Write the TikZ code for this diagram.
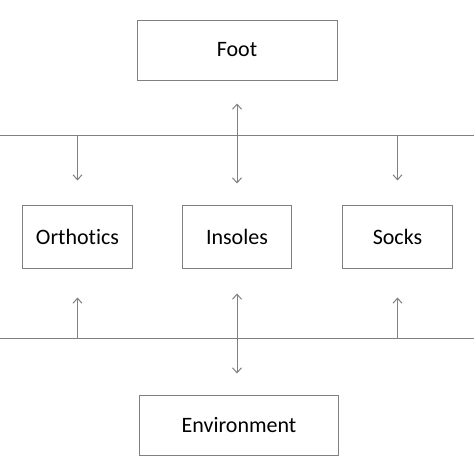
\documentclass[tikz,border=0pt]{standalone}
\usepackage{fontspec}
\setmainfont{Carlito}[Ligatures=NoCommon]
\usepackage{tikz}
\usetikzlibrary{arrows.meta,positioning}
\definecolor{lineGray}{RGB}{128,128,128}

\begin{document}
\begin{tikzpicture}[x=1pt,y=-1pt,node distance=124pt,>={Straight Barb[length=5pt,width=9pt]},line width=1pt]
\tikzset{box/.style={rectangle,draw=lineGray,line width=1pt,minimum width=110pt,minimum height=63pt,inner sep=0pt,font=\fontsize{22}{25}\selectfont}}
\useasboundingbox (0,0) rectangle (474,474);

\node (foot) [box,minimum width=200pt,minimum height=60pt] at (237,50) {Foot};
\node (insoles) [box,minimum width=109pt,below=124pt of foot] {Insoles};
\node (orthotics) [box,left=49pt of insoles] {Orthotics};
\node (socks) [box,right=50pt of insoles] {Socks};
\node (env) [box,minimum width=199pt,minimum height=60pt,below=126pt of insoles,xshift=2pt] {Environment};

% the two bus lines
\coordinate (topL) at (0,135);
\coordinate (topR) at (474,135);
\coordinate (botL) at (0,338);
\coordinate (botR) at (474,338);
\draw[lineGray] (topL) -- (topR);
\draw[lineGray] (botL) -- (botR);

\draw[lineGray,<->,shorten <=23pt,shorten >=21pt] (foot) -- (insoles);
\draw[lineGray,->,shorten >=24pt] (orthotics.north |- topL) -- (orthotics.north);
\draw[lineGray,->,shorten >=24pt] (socks.north |- topL) -- (socks.north);

\draw[lineGray,<->,shorten <=25pt,shorten >=21pt] (insoles.south) -- (insoles.south |- env.north);
\draw[lineGray,->,shorten >=29pt] (orthotics.south |- botL) -- (orthotics.south);
\draw[lineGray,->,shorten >=29pt] (socks.south |- botL) -- (socks.south);
\end{tikzpicture}
\end{document}
